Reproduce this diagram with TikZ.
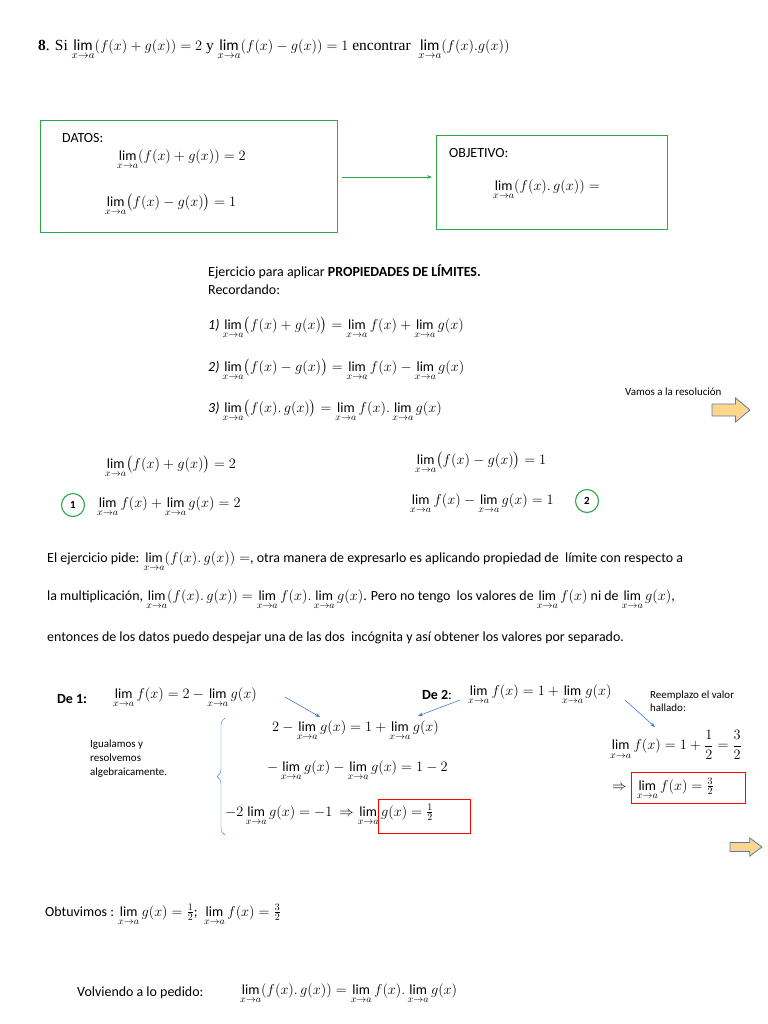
\documentclass[tikz,border=0pt]{standalone}
\usepackage{amsmath}
\usepackage{fontspec}
\setmainfont{Carlito}
\newfontfamily\timesf{Liberation Serif}
\usetikzlibrary{arrows.meta,decorations.pathreplacing}
\definecolor{gbox}{RGB}{40,170,70}
\definecolor{bluear}{RGB}{70,120,210}
\definecolor{yel}{RGB}{250,215,140}
\definecolor{yelb}{RGB}{90,120,180}
\newcommand{\lm}{\lim\limits_{x\to a}}
\newcommand{\yarr}[4]{\draw[draw=yelb,fill=yel,line width=0.8pt] (#1,#2) ++(0,#4*0.25) -- ++(#3*0.62,0) -- ++(0,-#4*0.25) -- ++(#3*0.38,#4*0.5) -- ++(-#3*0.38,#4*0.5) -- ++(0,-#4*0.25) -- ++(-#3*0.62,0) -- cycle;}
\begin{document}
\begin{tikzpicture}[x=1bp,y=-1bp,font=\fontsize{14}{16}\selectfont,
  txt/.style={anchor=west,inner sep=0pt},
  gbx/.style={draw=gbox,line width=1.2pt},
  rbx/.style={draw=red,line width=1.2pt},
  bar/.style={-{Stealth[length=5pt]},bluear,line width=0.6pt},
  circ/.style={circle,draw=gbox,line width=1.1pt,minimum size=23bp,inner sep=0pt,font=\bfseries\fontsize{11}{12}\selectfont}]
\useasboundingbox (0,0) rectangle (768,1024);
\node[txt] (title) at (38,50) {\timesf\fontsize{15.5}{18}\selectfont\textbf{8}. Si $\lm(f(x)+g(x))=2$ y $\lm(f(x)-g(x))=1$ encontrar\ \ $\lm(f(x).g(x))$};
% DATOS
\node[gbx,minimum width=297bp,minimum height=112bp,anchor=north west] (datos) at (40,120) {};
\node[txt] (dl) at (62,138) {DATOS:};
\node[txt] (d1) at (117,160) {$\lm(f(x)+g(x))=2$};
\node[txt] (d2) at (105,205) {$\lm\bigl(f(x)-g(x)\bigr)=1$};
\node[gbx,minimum width=231bp,minimum height=94bp,anchor=north west] (obj) at (436,135) {};
\node[txt] (ol) at (449,153) {OBJETIVO:};
\node[txt] (o1) at (493,190) {$\lm(f(x).\,g(x))=$};
\coordinate (c1) at (342,177);
\coordinate (c2) at (432,177);
\draw[-{Stealth[length=5pt]},gbox,line width=0.6pt] (c1) -- (c2);
% properties
\node[txt] (e1) at (208,272) {Ejercicio para aplicar \textbf{PROPIEDADES DE LÍMITES.}};
\node[txt] (e2) at (208,290) {Recordando:};
\node[txt] (p1) at (208,328) {\textit{1)} $\lm\bigl(f(x)+g(x)\bigr)=\lm f(x)+\lm g(x)$};
\node[txt] (p2) at (208,370) {\textit{2)} $\lm\bigl(f(x)-g(x)\bigr)=\lm f(x)-\lm g(x)$};
\node[txt] (p3) at (208,411) {\textit{3)} $\lm\bigl(f(x).\,g(x)\bigr)=\lm f(x).\lm g(x)$};
\node[txt,font=\fontsize{11}{12}\selectfont] (vr) at (625,392) {Vamos a la resolución};
\yarr{712}{398}{38}{24}
% row
\node[txt] (r1) at (105,467) {$\lm\bigl(f(x)+g(x)\bigr)=2$};
\node[txt] (r2) at (415,463) {$\lm\bigl(f(x)-g(x)\bigr)=1$};
\node[circ] (c1n) at (73,505) {1};
\node[txt] (r3) at (97,507) {$\lm f(x)+\lm g(x)=2$};
\node[txt] (r4) at (410,504) {$\lm f(x)-\lm g(x)=1$};
\node[circ] (c2n) at (587,501) {2};
% paragraph
\node[txt] (l1) at (47,562) {El ejercicio pide: $\lm(f(x).\,g(x))=$, otra manera de expresarlo es aplicando propiedad de\ \ límite con respecto a};
\node[txt] (l2) at (47,600) {la multiplicación, $\lm(f(x).\,g(x))=\lm f(x).\lm g(x)$. Pero no tengo\ \ los valores de $\lm f(x)$ ni de $\lm g(x)$,};
\node[txt] (l3) at (47,638) {entonces de los datos puedo despejar una de las dos\ \ incógnita y así obtener los valores por separado.};
% solving
\node[txt] (de1) at (57,699) {\textbf{De 1:}};
\node[txt] (de1e) at (113,698) {$\lm f(x)=2-\lm g(x)$};
\node[txt] (de2) at (422,695) {\textbf{De 2}:};
\node[txt] (de2e) at (468,695) {$\lm f(x)=1+\lm g(x)$};
\node[txt,font=\fontsize{11}{13}\selectfont,align=left] (rem) at (650,701) {Reemplazo el valor\\hallado:};
\node[txt] (s1) at (272,731) {$2-\lm g(x)=1+\lm g(x)$};
\node[txt] (s2) at (267,771) {$-\lm g(x)-\lm g(x)=1-2$};
\node[txt] (s3) at (225,815) {$-2\lm g(x)=-1\ \Rightarrow\lm g(x)=\frac{1}{2}$};
\node[rbx,minimum width=92bp,minimum height=34bp,anchor=north west] (rb1) at (378,799) {};
\node[txt,font=\fontsize{11}{14}\selectfont,align=left] (ig) at (90,759) {Igualamos y\\resolvemos\\algebraicamente.};
\coordinate (b1) at (225,718);
\coordinate (b2) at (225,835);
\draw[bluear,decorate,decoration={brace,amplitude=8pt,mirror}] (b1) -- (b2);
\coordinate (a1s) at (285,697); \coordinate (a1e) at (320,717);
\coordinate (a2s) at (460,700); \coordinate (a2e) at (418,716);
\coordinate (a3s) at (625,700); \coordinate (a3e) at (655,727);
\draw[bar] (a1s) -- (a1e);
\draw[bar] (a2s) -- (a2e);
\draw[bar] (a3s) -- (a3e);
\node[txt] (f1) at (610,745) {$\lm f(x)=1+\dfrac{1}{2}=\dfrac{3}{2}$};
\node[txt] (f2) at (612,789) {$\Rightarrow\ \ \lm f(x)=\frac{3}{2}$};
\node[rbx,minimum width=114bp,minimum height=31bp,anchor=north west] (rb2) at (631,772) {};
\yarr{730}{838}{32}{18}
% end
\node[txt] (ob) at (45,915) {Obtuvimos : $\lm g(x)=\frac{1}{2}$;\ \ $\lm f(x)=\frac{3}{2}$};
\node[txt] (vp) at (77,993) {Volviendo a lo pedido:};
\node[txt] (vpe) at (240,994) {$\lm(f(x).\,g(x))=\lm f(x).\lm g(x)$};
\end{tikzpicture}
\end{document}
